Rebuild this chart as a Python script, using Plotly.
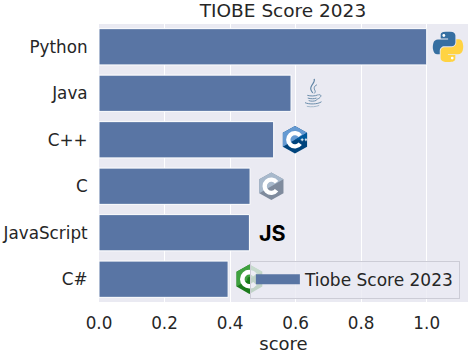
import base64
import plotly.graph_objects as go

languages = ["Python", "Java", "C++", "C", "JavaScript", "C#"]
scores = [1.0, 0.586, 0.533, 0.461, 0.459, 0.394]
series_name = "Tiobe Score 2023"
x_ticks = [0.0, 0.2, 0.4, 0.6, 0.8, 1.0]
x_tick_labels = ["0.0", "0.2", "0.4", "0.6", "0.8", "1.0"]

BAR = "#5975A4"
INK = "#262626"
FONT = "DejaVu Sans"


def uri(svg):
    return "data:image/svg+xml;base64," + base64.b64encode(svg.encode()).decode()


PY_PATH = ("M54.9,0C50.3,0 45.9,.4 42.1,1.1C30.8,3.1 28.8,7.3 28.8,15V25.2H55.3V28.6H18.8"
           "C11.1,28.6 4.4,33.2 2.3,42C-.1,52 -.2,58.2 2.3,68.6C4.2,76.4 8.6,81.9 16.3,81.9H25.4V69.9"
           "C25.4,61.2 32.9,53.5 41.8,53.5H68.3C75.6,53.5 81.5,47.4 81.5,40.1V15"
           "C81.5,7.8 75.4,2.5 68.3,1.3C63.8,.5 59.1,0 54.9,0Z")
python_svg = f'''<svg xmlns="http://www.w3.org/2000/svg" viewBox="0 0 110 110">
<path d="{PY_PATH}" fill="#366FA1"/><circle cx="40" cy="14.5" r="5" fill="#fff"/>
<g transform="rotate(180 55 55)"><path d="{PY_PATH}" fill="#FFD343"/><circle cx="40" cy="14.5" r="5" fill="#fff"/></g>
</svg>'''

java_svg = '''<svg xmlns="http://www.w3.org/2000/svg" viewBox="0 0 100 130">
<g fill="none" stroke="#5F84A4">
<path d="M58,2C66,20 36,30 44,50C46,56 50,60 52,64" stroke-width="5"/>
<path d="M70,28C56,34 56,44 62,54C64,58 62,62 58,66" stroke-width="4"/>
<path d="M28,74C42,78 62,78 74,72" stroke-width="4"/>
<path d="M30,86C44,90 58,90 68,86" stroke-width="4"/>
<path d="M34,97C46,101 58,100 68,96" stroke-width="4"/>
<path d="M76,72C92,68 92,84 68,92" stroke-width="4"/>
<path d="M18,106C34,114 74,114 90,102" stroke-width="4"/>
<path d="M26,122C46,126 66,124 80,118" stroke-width="4" stroke="#9DB4C7"/>
</g></svg>'''

hexagon = "50,2 92,26 92,74 50,98 8,74 8,26"
c_shape = ('<path d="M68,36A23,23 0 1 0 68,64" fill="none" stroke="#fff" stroke-width="15"/>')
cpp_svg = f'''<svg xmlns="http://www.w3.org/2000/svg" viewBox="0 0 100 100">
<polygon points="{hexagon}" fill="#00447C"/>
<polygon points="50,2 92,26 50,50 8,74 8,26" fill="#659AD2"/>
<polygon points="92,26 92,50 50,50" fill="#00599C"/>
{c_shape}
<path d="M70,50h10M75,45v10M84,50h8M88,45v10" stroke="#fff" stroke-width="3"/>
</svg>'''
c_svg = f'''<svg xmlns="http://www.w3.org/2000/svg" viewBox="0 0 100 100">
<polygon points="{hexagon}" fill="#7F8B9D"/>
<polygon points="50,2 92,26 50,50 8,74 8,26" fill="#A8B9CC"/>
{c_shape}
</svg>'''
cs_svg = f'''<svg xmlns="http://www.w3.org/2000/svg" viewBox="0 0 100 100">
<polygon points="{hexagon}" fill="#1B7A1B"/>
<polygon points="50,2 92,26 50,50 8,74 8,26" fill="#3FA13F"/>
<path d="M68,36A23,23 0 1 0 68,64" fill="none" stroke="#fff" stroke-width="15"/>
<circle cx="50" cy="50" r="7" fill="#1B7A1B"/>
</svg>'''

logos = {"Python": python_svg, "Java": java_svg, "C++": cpp_svg, "C": c_svg, "C#": cs_svg}
logo_offset = 0.065
logo_size = {"Python": 0.66, "Java": 0.64, "C++": 0.62, "C": 0.62, "C#": 0.66}

fig = go.Figure()
fig.add_trace(go.Bar(
    x=scores, y=languages, orientation="h", width=0.78,
    marker=dict(color=BAR, line=dict(color="#FFFFFF", width=1)),
    showlegend=False,
))
fig.add_trace(go.Scatter(
    x=[None], y=[None], mode="lines", name=series_name,
    line=dict(color=BAR, width=10.5),
))

images = []
for lang, val in zip(languages, scores):
    if lang in logos:
        images.append(dict(
            source=uri(logos[lang]), xref="x", yref="y", x=val + logo_offset, y=languages.index(lang),
            sizex=0.2, sizey=logo_size[lang], xanchor="center", yanchor="middle",
            sizing="contain", layer="above",
        ))

fig.update_layout(
    width=474, height=355,
    margin=dict(l=98.5, r=5.5, t=24, b=53, autoexpand=False),
    paper_bgcolor="#FFFFFF", plot_bgcolor="#EAEAF2",
    font=dict(family=FONT, size=16.8, color=INK),
    title=dict(text="TIOBE Score 2023", font=dict(size=18.5, color=INK), x=0.597, xanchor="center",
               y=0.969, yanchor="middle"),
    images=images,
    annotations=[dict(text="<b>JS</b>", xref="x", yref="y",
                      x=scores[languages.index("JavaScript")] + logo_offset,
                      y=languages.index("JavaScript"), showarrow=False, xshift=1.5,
                      font=dict(family="Inter", size=21.5, color="#000000"))],
    legend=dict(x=0.978, xanchor="right", y=0.012, yanchor="bottom",
                bgcolor="rgba(234,234,242,0.8)", bordercolor="#CCCCD6", borderwidth=1,
                itemwidth=44, font=dict(size=17, color=INK)),
    xaxis=dict(range=[0, 1.126], tickvals=x_ticks, ticktext=x_tick_labels, showgrid=True,
               gridcolor="#FFFFFF", gridwidth=1, zeroline=False, showline=False,
               automargin=False, ticks="outside", ticklen=6, tickcolor="rgba(0,0,0,0)",
               title=dict(text="score", standoff=3, font=dict(size=18, color=INK))),
    yaxis=dict(range=[5.49, -0.49], type="category", categoryorder="array", categoryarray=languages,
               automargin=False, showgrid=False, zeroline=False, showline=False,
               ticks="outside", ticklen=7, tickcolor="rgba(0,0,0,0)"),
)

fig.write_html("out.html", config={"displayModeBar": False},
               post_script="document.body.style.margin='0';document.documentElement.style.overflow='hidden';")
